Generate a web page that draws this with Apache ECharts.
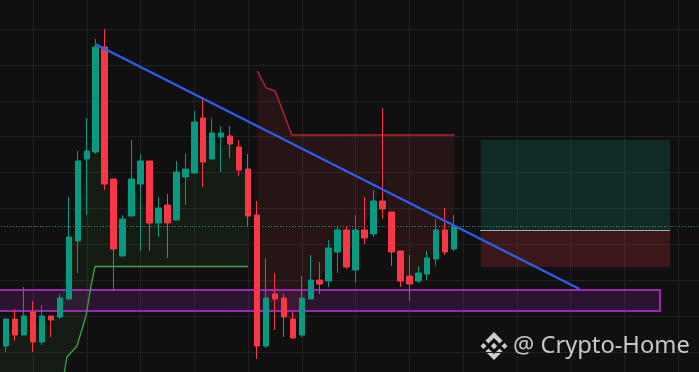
<!DOCTYPE html>
<html>
<head>
<meta charset="utf-8">
<style>html,body{margin:0;padding:0;background:#101010}#c{width:699px;height:372px}</style>
<script src="https://cdn.jsdelivr.net/npm/echarts@6/dist/echarts.min.js"></script>
</head>
<body>
<div id="c"></div>
<script>
// Candle values
const opens  = [25,42,69,53,76,46,72,71,89,147,229,236,341,209,132,172,204,227,165,183,168,211,215,270,229,251,252,241,219,173,42,94,90,69,53,89,108,107,136,158,118,158,154,187,176,137,112,107,114,129,158,139];
const closes = [43,69,53,72,46,72,68,90,151,227,237,341,204,139,169,209,227,165,180,165,216,219,266,226,255,255,244,218,172,42,90,89,71,50,90,108,104,140,158,121,158,150,187,179,136,107,104,115,130,158,136,162];
const lows   = [20,36,47,53,36,43,51,69,89,115,173,234,198,97,132,172,137,137,151,130,168,183,215,201,229,216,230,212,162,29,40,58,51,50,51,89,94,101,115,119,105,144,151,169,122,101,87,105,108,122,133,137];
const highs  = [48,69,79,101,87,83,72,94,191,237,270,349,359,209,173,248,234,227,191,194,227,234,277,291,270,262,262,248,234,187,130,115,94,76,112,133,126,148,162,162,173,191,198,280,176,137,133,122,137,169,180,173];

// Indicator lines: positions counted in candles, levels in price units
const greenLineX = [0,7,7.46,7.76,7.98,8.88,9.21,9.88,10.44,10.89,27.96];
const greenLineV = [-40,-24,16,31,32,42,52,72,102,121.5,121.5];
const redLineX   = [29,30,31,32.84,51];
const redLineV   = [317,300,297,253,253];

// Trend line
const trendX = [10.89,64.96];
const trendV = [344,99];

// Zones: [fromX, fromLevel, toX, toLevel]
const supportZone = [0,77,73.94,98];
const profitZone  = [53.95,158,75.06,248];
const lossZone    = [53.95,121,75.06,158];
const entryLevel  = 157.5;
const priceLevel  = 161.5;
const priceLevelStart = 0.0603;
const watermark   = '@ Crypto-Home';

const count = 80;
const categories = Array.from({length:count},(_,i)=>String(i));
const mids = highs.map((h,i)=>(h+lows[i])/2);

const greenBand = [];
for (let i=0;i<=28;i++) greenBand.push([i,mids[i]]);
for (let i=greenLineX.length-1;i>=0;i--) greenBand.push([greenLineX[i],greenLineV[i]]);
const redBand = [];
redLineX.forEach((x,i)=>redBand.push([x,redLineV[i]]));
for (let i=51;i>=29;i--) redBand.push([i,mids[i]]);

function polygonSeries(points,fill,z){
  return {type:'custom',xAxisIndex:1,yAxisIndex:0,z,silent:true,clip:true,animation:false,
    data:[[points[0][0],points[0][1]]],
    renderItem(params,api){
      return {type:'polygon',shape:{points:points.map(p=>api.coord(p))},style:{fill}};
    }};
}
function rectSeries(zone,fill,stroke,z){
  return {type:'custom',xAxisIndex:1,yAxisIndex:0,z,silent:true,clip:false,animation:false,
    data:[[zone[0],zone[1]]],
    renderItem(params,api){
      const a=api.coord([zone[0],zone[3]]), b=api.coord([zone[2],zone[1]]);
      return {type:'rect',shape:{x:a[0],y:a[1],width:b[0]-a[0],height:b[1]-a[1]},
        style:{fill,stroke:stroke||null,lineWidth:stroke?2:0}};
    }};
}
function lineSeries(xs,vs,color,width,z,type){
  return {type:'line',xAxisIndex:1,yAxisIndex:0,z,silent:true,showSymbol:false,animation:false,
    data:xs.map((x,i)=>[x,vs[i]]),lineStyle:{color,width,type:type||'solid'}};
}

const chart = echarts.init(document.getElementById('c'),null,{renderer:'canvas'});
chart.setOption({
  backgroundColor:'#101010',
  animation:false,
  grid:{left:-2.84,right:-6,top:-8,bottom:-16,containLabel:false,outerBoundsMode:'none'},
  xAxis:[
    {type:'category',data:categories,boundaryGap:false,
     axisLine:{show:false},axisTick:{show:false},axisLabel:{show:false},
     splitLine:{show:true,interval:i=>i%6===4,lineStyle:{color:'#212121',width:1}}},
    {type:'value',min:-0.0335,max:count-1-0.0335,show:false,splitLine:{show:false}}
  ],
  yAxis:[
    {type:'value',min:0,max:396,show:false,splitLine:{show:false}},
    {type:'value',min:0,max:11.03,interval:1,
     axisLine:{show:false},axisTick:{show:false},axisLabel:{show:false},
     splitLine:{show:true,lineStyle:{color:'#212121',width:1}}}
  ],
  series:[
    polygonSeries(greenBand,'rgba(76,175,80,0.08)',1),
    polygonSeries(redBand,'rgba(242,54,69,0.1)',1),
    rectSeries(profitZone,'rgba(8,153,129,0.2)',null,1),
    rectSeries(lossZone,'rgba(242,54,69,0.2)',null,1),
    rectSeries(supportZone,'rgba(156,39,176,0.2)','#9c27b0',2),
    lineSeries(greenLineX,greenLineV,'#43a047',1.3,2),
    lineSeries(redLineX,redLineV,'#b2222f',1.5,2),
    lineSeries([priceLevelStart,count-1],[priceLevel,priceLevel],'#089981',1,2,[1,2]),
    lineSeries([profitZone[0]-0.1,profitZone[2]],[entryLevel,entryLevel],'#a8a8a8',1,2),
    {type:'candlestick',xAxisIndex:0,yAxisIndex:0,z:3,barWidth:6,silent:true,animation:false,
     data:opens.map((o,i)=>[o,closes[i],lows[i],highs[i]]),
     itemStyle:{color:'#089981',color0:'#f73646',borderColor:'#089981',borderColor0:'#f73646',borderWidth:1}},
    lineSeries(trendX,trendV,'#2c5fe8',2.5,4)
  ],
  graphic:[
    {type:'group',x:494,y:346,z:10,silent:true,children:[
      {type:'polygon',shape:{points:[[-13.5,0],[-10.5,-3],[-7.5,0],[-10.5,3]]},style:{fill:'#cccccc'}},
      {type:'polygon',shape:{points:[[13.5,0],[10.5,-3],[7.5,0],[10.5,3]]},style:{fill:'#cccccc'}},
      {type:'polygon',shape:{points:[[-3.2,0],[0,-3.2],[3.2,0],[0,3.2]]},style:{fill:'#cccccc'}},
      {type:'polygon',shape:{points:[[0,-14],[8.5,-5.5],[5.5,-2.5],[0,-8],[-5.5,-2.5],[-8.5,-5.5]]},style:{fill:'#cccccc'}},
      {type:'polygon',shape:{points:[[0,14],[8.5,5.5],[5.5,2.5],[0,8],[-5.5,2.5],[-8.5,5.5]]},style:{fill:'#cccccc'}}
    ]},
    {type:'text',x:513,y:346,z:10,silent:true,
     style:{text:watermark,fill:'#c8c8c8',font:'23.7px "Noto Sans"',verticalAlign:'middle'}}
  ]
});
</script>
</body>
</html>
